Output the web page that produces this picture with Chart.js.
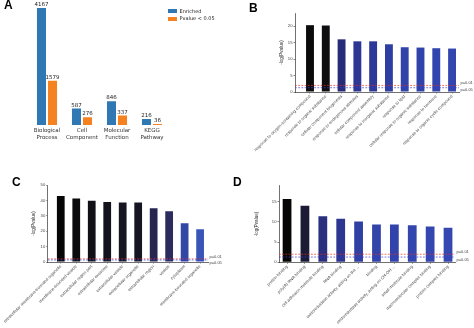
<!DOCTYPE html>
<html>
<head>
<meta charset="utf-8">
<script src="https://cdn.jsdelivr.net/npm/chart.js@4.4.1/dist/chart.umd.min.js"></script>
<style>
  body { margin: 0; background: #fff; width: 474px; height: 328px; position: relative; overflow: hidden; font-family: "Liberation Sans", Arial, sans-serif; }
  canvas { position: absolute; }
  .tag { position: absolute; font-weight: bold; font-size: 12px; line-height: 12px; color: #000; }
  .key { position: absolute; left: 168px; font: 5px "DejaVu Sans", sans-serif; color: #222; line-height: 5px; }
  .key i { display: inline-block; width: 8.5px; height: 4px; margin-right: 3px; vertical-align: -0.5px; }
</style>
</head>
<body>
<canvas id="panel-a" width="237" height="164" style="left:0;top:0"></canvas>
<canvas id="panel-b" width="237" height="164" style="left:237px;top:0"></canvas>
<canvas id="panel-c" width="237" height="164" style="left:0;top:164px"></canvas>
<canvas id="panel-d" width="237" height="164" style="left:237px;top:164px"></canvas>
<div class="tag" style="left:4px;top:-1px">A</div>
<div class="tag" style="left:249px;top:1.5px">B</div>
<div class="tag" style="left:12px;top:175.5px">C</div>
<div class="tag" style="left:233px;top:175.5px">D</div>
<div class="key" style="top:8.5px"><i style="background:#2f78b3"></i>Enriched</div>
<div class="key" style="top:16px"><i style="background:#f58220"></i>Pvalue &lt; 0.05</div>
<script>
// panel A: number of enriched terms
const goCategories = [['Biological', 'Process'], ['Cell', 'Component'], ['Molecular', 'Function'], ['KEGG', 'Pathway']]
const enrichedCounts = [4167, 587, 846, 216]
const significantCounts = [1579, 276, 337, 36]

// panel B: biological process
const bpTerms = ['response to oxygen-containing compound', 'response to organic substance', 'cellular component biogenesis',
  'response to endogenous stimulus', 'cellular component assembly', 'response to inorganic substance', 'response to lipid',
  'cellular response to organic substance', 'response to hormone', 'response to organic cyclic compound']
const bpScores = [20.3, 20.2, 16.0, 15.4, 15.4, 14.5, 13.6, 13.5, 13.3, 13.2]

// panel C: cellular component
const ccTerms = ['extracellular membrane-bounded organelle', 'membrane-bounded vesicle', 'extracellular region part',
  'extracellular exosome', 'extracellular vesicle', 'extracellular organelle', 'extracellular region', 'vesicle',
  'cytoplasm', 'membrane-bounded organelle']
const ccScores = [42.8, 41.3, 39.8, 38.9, 38.6, 38.6, 34.9, 32.9, 25.2, 21.3]

// panel D: molecular function
const mfTerms = ['protein binding', 'poly(A) RNA binding', 'cell adhesion molecule binding', 'RNA binding',
  'oxidoreductase activity, acting on the ...', 'binding', 'oxidoreductase activity, acting on CH-OH ...',
  'small molecule binding', 'macromolecular complex binding', 'protein complex binding']
const mfScores = [15.7, 14.0, 11.4, 10.8, 10.1, 9.4, 9.4, 9.2, 8.9, 8.6]

// -log10 of the cut offs
const cutoffValues = [2, 1.3]
const cutoffLabels = ['p=0.01', 'p=0.05']

const bpColors = ['#0b0b0c', '#0e0e11', '#272b78', '#2c3794', '#2d3998', '#2f3ea2', '#3142a9', '#3142aa', '#3244ad', '#3345af']
const ccColors = ['#060606', '#0b0b0e', '#101016', '#13131d', '#15151f', '#161622', '#25254f', '#2b2b5e', '#3246a6', '#3a55b8']
const mfColors = ['#060606', '#1b1b36', '#2a2f7e', '#2d3690', '#3040a2', '#3244aa', '#3244ab', '#3346ae', '#3447b0', '#3548b2']

const valueLabels = {
  id: 'valueLabels',
  afterDatasetsDraw(chart) {
    const ctx = chart.ctx
    ctx.save()
    ctx.font = '5.5px "DejaVu Sans"'
    ctx.fillStyle = '#222'
    ctx.textAlign = 'center'
    ctx.textBaseline = 'bottom'
    chart.data.datasets.forEach((ds, i) => {
      chart.getDatasetMeta(i).data.forEach((bar, j) => {
        ctx.fillText(ds.data[j], bar.x, bar.y - 0.5)
      })
    })
    ctx.restore()
  }
}

const cutoffLines = {
  id: 'cutoffLines',
  afterDatasetsDraw(chart) {
    const { ctx, chartArea, scales } = chart
    const colors = ['#e4322b', '#3b3bd4']
    ctx.save()
    ctx.lineWidth = 0.7
    ctx.setLineDash([1.8, 1.4])
    const ys = cutoffValues.map(v => scales.y.getPixelForValue(v))
    ys.forEach((y, i) => {
      ctx.strokeStyle = colors[i]
      ctx.beginPath()
      ctx.moveTo(chartArea.left, y)
      ctx.lineTo(chartArea.right, y)
      ctx.stroke()
    })
    ctx.setLineDash([])
    ctx.font = '4px "Liberation Sans"'
    ctx.fillStyle = '#444'
    ctx.textBaseline = 'bottom'
    ctx.fillText(cutoffLabels[0], chartArea.right + 1.5, ys[0] - 0.5)
    ctx.textBaseline = 'top'
    ctx.fillText(cutoffLabels[1], chartArea.right + 1.5, ys[1] + 0.5)
    ctx.restore()
  }
}

new Chart(document.getElementById('panel-a'), {
  type: 'bar',
  data: {
    labels: goCategories,
    datasets: [
      { label: 'Enriched', data: enrichedCounts, backgroundColor: '#2f78b3' },
      { label: 'Pvalue < 0.05', data: significantCounts, backgroundColor: '#f58220' }
    ]
  },
  options: {
    responsive: false,
    animation: false,
    layout: { padding: { left: 29.5, right: 67.5, top: 8, bottom: 0 } },
    datasets: { bar: { categoryPercentage: 0.63, barPercentage: 0.82 } },
    plugins: { legend: { display: false }, tooltip: { enabled: false } },
    scales: {
      x: {
        grid: { display: false, drawTicks: false, tickLength: 0 },
        border: { display: false },
        ticks: { maxRotation: 0, minRotation: 0, padding: 2.5, color: '#333', font: { family: 'DejaVu Sans', size: 5.5, lineHeight: 1.2 } },
        afterFit(scale) { scale.height = 39 }
      },
      y: { display: false, min: 0, max: 4167 }
    }
  },
  plugins: [valueLabels]
})

function termChart(id, terms, scores, colors, opts) {
  new Chart(document.getElementById(id), {
    type: 'bar',
    data: {
      datasets: [{
        data: scores.map((v, i) => ({ x: i, y: v })),
        backgroundColor: colors,
        borderWidth: 0,
        categoryPercentage: 1,
        barPercentage: opts.barPct
      }]
    },
    options: {
      responsive: false,
      animation: false,
      layout: { padding: { left: opts.left, right: opts.right, top: opts.top, bottom: 0 } },
      plugins: { legend: { display: false }, tooltip: { enabled: false } },
      scales: {
        x: {
          type: 'linear',
          offset: false,
          min: opts.xMin,
          max: opts.xMax,
          grid: { offset: false, drawOnChartArea: false, tickLength: 1.5, tickColor: '#333', tickWidth: 0.6 },
          border: { color: '#333', width: 0.7 },
          ticks: {
            autoSkip: false, maxRotation: 45, minRotation: 45, padding: 0.5, color: '#444',
            font: { family: 'Liberation Sans', size: 4.2 },
            callback: v => terms[v]
          },
          afterBuildTicks(scale) { scale.ticks = terms.map((t, i) => ({ value: i })) },
          afterFit(scale) { scale.height = opts.xHeight }
        },
        y: {
          min: 0,
          max: opts.yMax,
          grid: { drawOnChartArea: false, tickLength: 1.5, tickColor: '#333', tickWidth: 0.6 },
          border: { color: '#333', width: 0.7 },
          ticks: { stepSize: opts.step, padding: 1, color: '#444', font: { family: 'Liberation Sans', size: 4.2 } },
          afterBuildTicks(scale) { scale.ticks = scale.ticks.filter(t => t.value % opts.step === 0) },
          title: { display: true, text: '-log(Pvalue)', color: '#333', padding: { top: 1, bottom: 1 }, font: { family: 'Liberation Sans', size: 4.5 } },
          afterFit(scale) { scale.width = opts.yWidth }
        }
      }
    },
    plugins: [cutoffLines]
  })
}

termChart('panel-b', bpTerms, bpScores, bpColors,
  { left: 41, yWidth: 17, right: 15, top: 13, xHeight: 72, xMin: -0.95, xMax: 9.44, yMax: 24, step: 5, barPct: 0.5 })
termChart('panel-c', ccTerms, ccScores, ccColors,
  { left: 29.5, yWidth: 17.5, right: 29, top: 21, xHeight: 66, xMin: -0.84, xMax: 9.51, yMax: 50, step: 10, barPct: 0.5 })
termChart('panel-d', mfTerms, mfScores, mfColors,
  { left: 16.5, yWidth: 25.5, right: 19, top: 21.7, xHeight: 65.7, xMin: -0.45, xMax: 9.39, yMax: 19, step: 5, barPct: 0.49 })
</script>
</body>
</html>
